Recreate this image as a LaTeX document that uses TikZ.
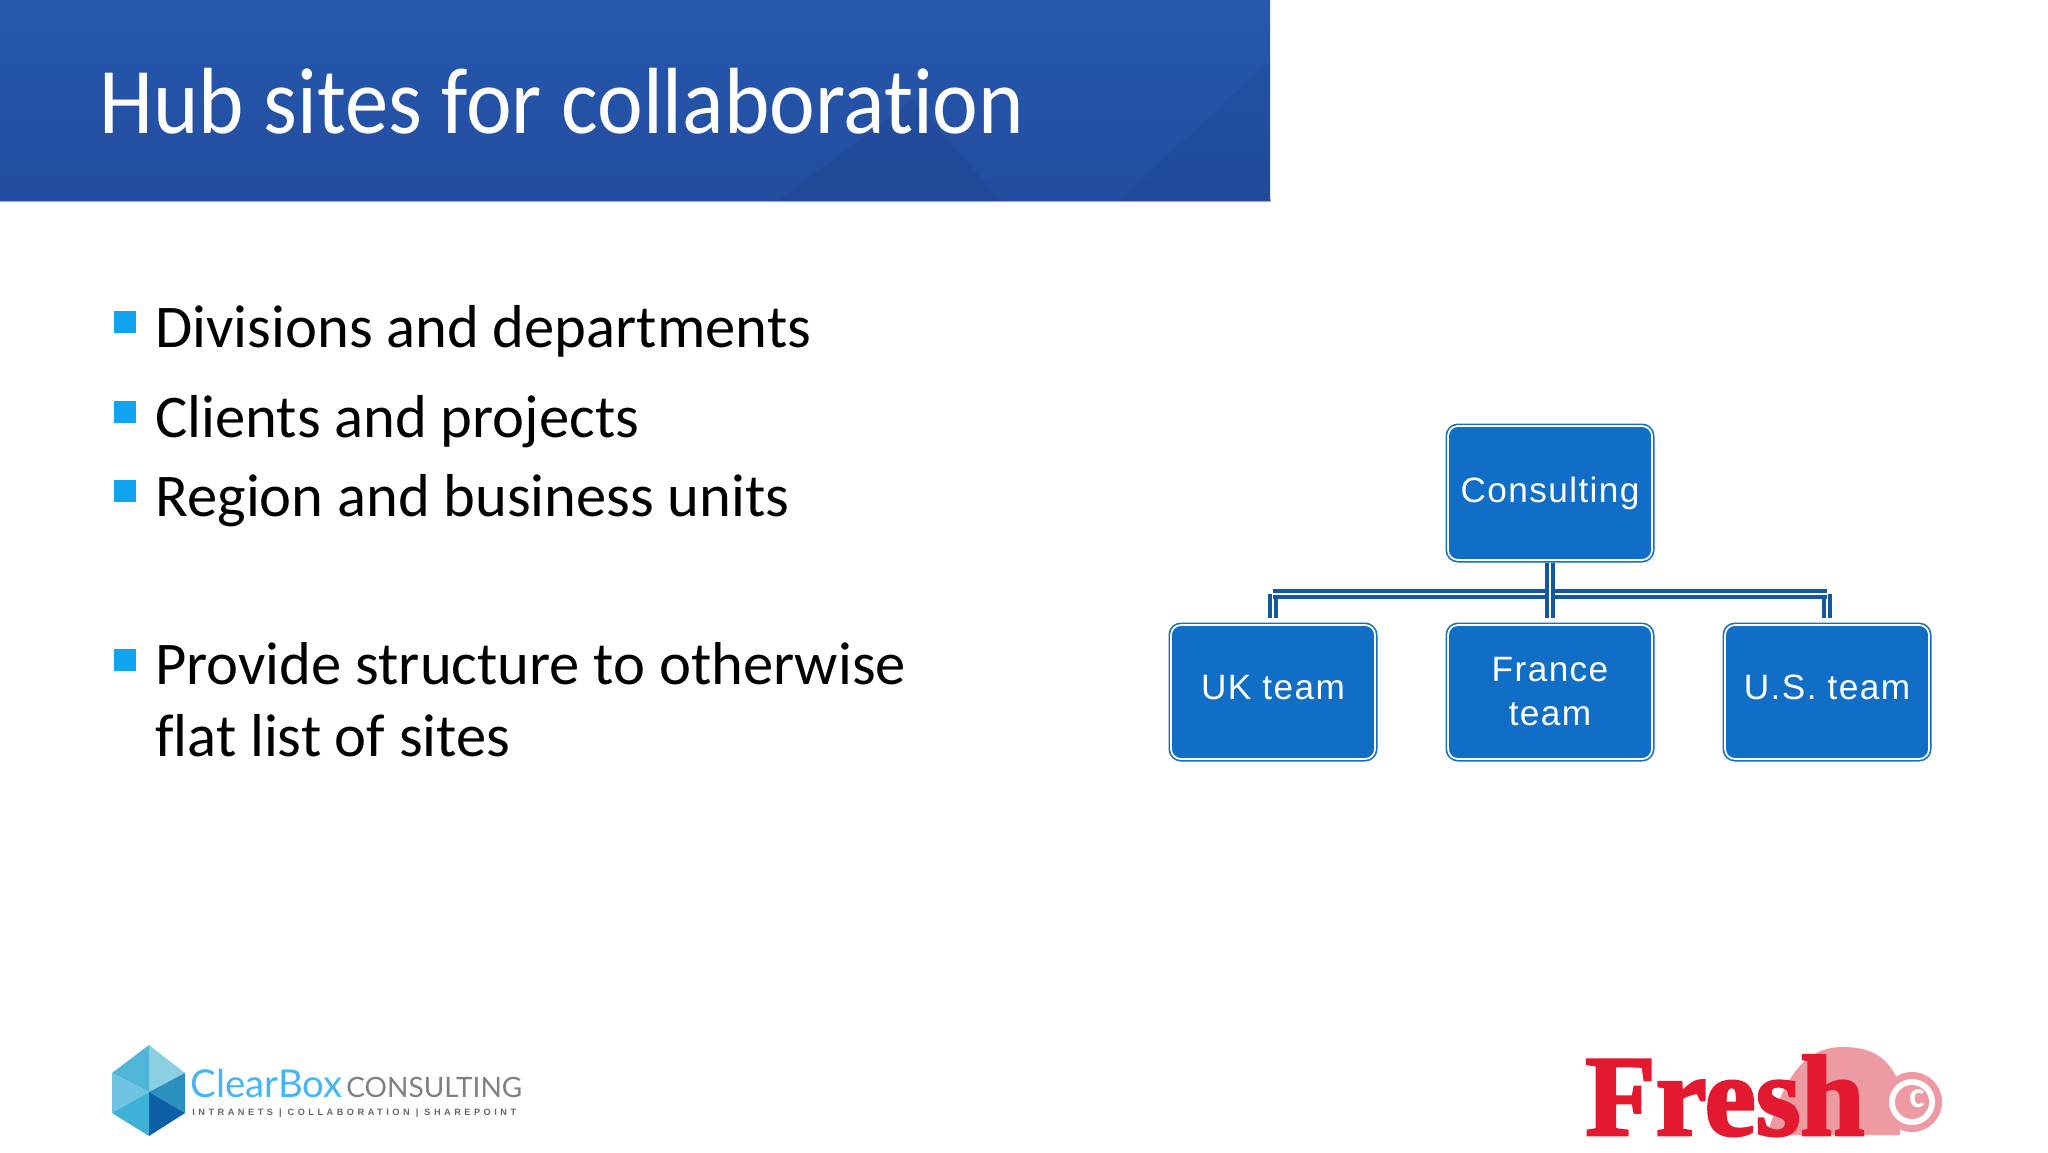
\documentclass[tikz,border=0pt]{standalone}
\usepackage{fontspec}
\setmainfont[Ligatures=NoCommon]{Carlito}
\newfontfamily\titlefont[Ligatures=NoCommon,FakeStretch=0.92]{Carlito}
\newfontfamily\boxfont[LetterSpace=4]{Liberation Sans}
\newfontfamily\logofont{Lato}
\newfontfamily\tagfont[LetterSpace=38]{Liberation Sans}
\newfontfamily\freshfont[FakeBold=2.5]{Liberation Serif}
\definecolor{bannertop}{HTML}{2558AE}
\definecolor{bannerbottom}{HTML}{234D9F}
\definecolor{boxblue}{HTML}{106EC7}
\definecolor{linkblue}{HTML}{11589F}
\definecolor{bulletblue}{HTML}{0FA3F0}
\definecolor{freshred}{HTML}{E3192F}
\definecolor{freshpink}{HTML}{EE9AA2}
\definecolor{clearblue}{HTML}{45B5F5}
\definecolor{cubea}{HTML}{8CCFE3}
\definecolor{cubeb}{HTML}{4FB6D8}
\definecolor{cubec}{HTML}{6FC4E3}
\definecolor{cubed}{HTML}{2B8FC0}
\definecolor{cubee}{HTML}{0E5FA8}
\definecolor{cubef}{HTML}{3FB0D6}
\usetikzlibrary{positioning}
\begin{document}
\begin{tikzpicture}[x=0.5pt, y=-0.5pt,
  team/.style = {draw=boxblue, double=white, double distance=0.9pt, line width=0.8pt, fill=boxblue, rounded corners=5pt,
    minimum width=102pt, minimum height=67pt, inner sep=2pt, align=center, text=white, font=\boxfont\fontsize{17.6}{22}\selectfont},
  single/.style = {text depth=5pt},
  item/.style = {anchor=base west, inner sep=0pt, font=\fontsize{30.3}{36}\selectfont},
  bullet/.style = {fill=bulletblue, minimum size=11pt, inner sep=0pt},
  link/.style = {draw=linkblue, line width=1.8pt, double=white, double distance=1pt}]
\useasboundingbox (0,0) rectangle (2048,1152);
% banner
\fill[black!35] (0,199) rectangle (1271,202);
\fill[top color=bannertop, bottom color=bannerbottom] (0,0) rectangle (1270,200);
\fill[black, opacity=.05] (912,100) -- (1000,200) -- (780,200) -- cycle;
\fill[black, opacity=.03] (1270,60) -- (1270,200) -- (1120,200) -- cycle;
\node[anchor=base west, inner sep=0pt, text=white, font=\titlefont\fontsize{47}{56}\selectfont] (title) at (99,133) {Hub sites for collaboration};
% bullets
\node[bullet] (b1) at (125,322) {};
\node[bullet] (b2) at (125,412) {};
\node[bullet] (b3) at (125,491) {};
\node[bullet] (b4) at (125,660) {};
\node[item] (i1) at (155,347) {Divisions and departments};
\node[item] (i2) at (155,437) {Clients and projects};
\node[item] (i3) at (155,516) {Region and business units};
\node[item] (i4) at (155,684) {Provide structure to otherwise};
\node[item] (i5) at (155,756) {flat list of sites};
% chart
\node[team] (consulting) at (1550,493) {Consulting};
\node[team] (france) [below of=consulting, node distance=99.5pt] {France\\team};
\node[team, single] (uk) [left of=france, node distance=138.5pt] {UK team};
\node[team, single] (us) [right of=france, node distance=138.5pt] {U.S. team};
\coordinate (bar) at (1550,594);
\draw[link, shorten >=3pt] (bar -| uk) -- (uk.north);
\draw[link, shorten >=3pt] (bar -| us) -- (us.north);
\draw[link] (bar -| uk) -- (bar -| us);
\draw[link, shorten <=1pt, shorten >=3pt] (consulting.south) -- (france.north);
% clearbox logo
\fill[cubea] (149,1045) -- (185,1073) -- (149,1092) -- cycle;
\fill[cubeb] (149,1045) -- (112,1073) -- (149,1092) -- cycle;
\fill[cubec] (112,1073) -- (112,1113) -- (149,1092) -- cycle;
\fill[cubed] (185,1073) -- (185,1113) -- (149,1092) -- cycle;
\fill[cubee] (185,1113) -- (149,1136) -- (149,1092) -- cycle;
\fill[cubef] (112,1113) -- (149,1136) -- (149,1092) -- cycle;
\node[anchor=base west, inner sep=0pt, text=clearblue, font=\logofont\fontsize{19.2}{20}\selectfont] (clearbox) at (190,1097) {ClearBox};
\node[anchor=base west, inner sep=0pt, text=black!50, font=\logofont\fontsize{14}{16}\selectfont] (consultingtext) at (346,1097) {CONSULTING};
\node[anchor=base west, inner sep=0pt, text=black!60, font=\tagfont\bfseries\fontsize{4.6}{6}\selectfont] (tagline) at (192,1115) {INTRANETS | COLLABORATION | SHAREPOINT};
% fresh logo
\fill[freshpink] (1767,1135) .. controls (1785,1075) and (1805,1047) .. (1843,1047) .. controls (1875,1047) and (1890,1060) .. (1900,1085) -- (1900,1135) -- cycle;
\fill[freshpink] (1912,1102) circle (30);
\fill[white] (1912,1102) circle (23);
\fill[freshpink] (1912,1102) circle (17);
\node[text=white, inner sep=0pt, font=\bfseries\fontsize{18}{18}\selectfont] (copy) at (1917,1099) {c};
\node[anchor=base west, inner sep=0pt, text=freshred, font=\freshfont\bfseries\fontsize{57.5}{60}\selectfont] (fresh) at (1585,1135) {Fresh};
\end{tikzpicture}
\end{document}
